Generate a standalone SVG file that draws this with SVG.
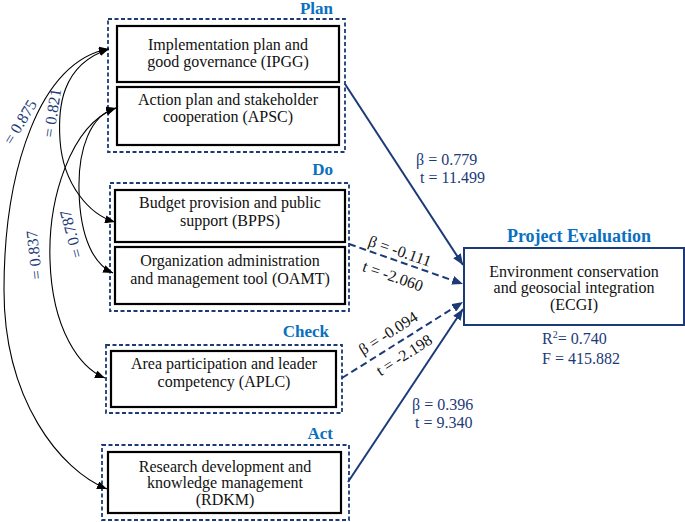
<svg xmlns="http://www.w3.org/2000/svg" width="685" height="522" viewBox="0 0 685 522">
<style>
.grp{fill:none;stroke:#1c3a78;stroke-width:1.8;stroke-dasharray:4 2.5}
.node{fill:#fff;stroke:#000;stroke-width:2.2}
.t{font-family:"Liberation Serif","Times New Roman",serif;font-size:16px;fill:#111}
.c{text-anchor:middle}
.hd{font-family:"Liberation Serif","Times New Roman",serif;font-size:17px;font-weight:bold;fill:#0a70c0;text-anchor:end}
.nv{font-family:"Liberation Serif","Times New Roman",serif;font-size:16px;fill:#1c3a78}
.cor{fill:none;stroke:#000;stroke-width:1.1;marker-start:url(#ab);marker-end:url(#ab)}
.path{fill:none;stroke:#1c3a78;stroke-width:2;marker-end:url(#an)}
.dash{stroke-dasharray:7 4}
</style>
<defs>
<marker id="ab" viewBox="0 0 10 8" refX="10" refY="4" markerWidth="10" markerHeight="8" markerUnits="userSpaceOnUse" orient="auto-start-reverse"><path d="M0,0 L10,4 L0,8 z" fill="#000"/></marker>
<marker id="an" viewBox="0 0 11 9" refX="11" refY="4.5" markerWidth="11" markerHeight="9" markerUnits="userSpaceOnUse" orient="auto"><path d="M0,0 L11,4.5 L0,9 z" fill="#1c3a78"/></marker>
</defs>

<g id="group-plan">
<rect class="grp" x="108" y="19" width="237" height="133"/>
<text class="hd" x="333" y="14">Plan</text>
</g>
<g id="group-do">
<rect class="grp" x="110" y="183" width="239" height="128"/>
<text class="hd" x="333" y="175">Do</text>
</g>
<g id="group-check">
<rect class="grp" x="106" y="345" width="236" height="68"/>
<text class="hd" x="329" y="337">Check</text>
</g>
<g id="group-act">
<rect class="grp" x="102" y="445" width="247" height="75"/>
<text class="hd" x="333" y="439">Act</text>
</g>

<g id="IPGG">
<rect class="node" x="117" y="26" width="222" height="56"/>
<text class="t c" x="228" y="50">Implementation plan and</text>
<text class="t c" x="228" y="67">good governance (IPGG)</text>
</g>
<g id="APSC">
<rect class="node" x="117" y="87" width="222" height="58"/>
<text class="t c" x="228" y="105">Action plan and stakeholder</text>
<text class="t c" x="228" y="122">cooperation (APSC)</text>
</g>
<g id="BPPS">
<rect class="node" x="115" y="190" width="230" height="52"/>
<text class="t c" x="230" y="208">Budget provision and public</text>
<text class="t c" x="230" y="226">support (BPPS)</text>
</g>
<g id="OAMT">
<rect class="node" x="115" y="247" width="230" height="57"/>
<text class="t c" x="230" y="266">Organization administration</text>
<text class="t c" x="230" y="284">and management tool (OAMT)</text>
</g>
<g id="APLC">
<rect class="node" x="111" y="351" width="225" height="56"/>
<text class="t c" x="224" y="369">Area participation and leader</text>
<text class="t c" x="224" y="387">competency (APLC)</text>
</g>
<g id="RDKM">
<rect class="node" x="108" y="452" width="233" height="61"/>
<text class="t c" x="225" y="472">Research development and</text>
<text class="t c" x="225" y="488">knowledge management</text>
<text class="t c" x="225" y="505">(RDKM)</text>
</g>
<g id="ECGI">
<text x="579" y="242" style="font-family:'Liberation Serif','Times New Roman',serif;font-size:18px;font-weight:bold;fill:#0a70c0;text-anchor:middle">Project Evaluation</text>
<rect x="464" y="248" width="220" height="77" fill="#fff" stroke="#1c3a78" stroke-width="2"/>
<text class="t c" x="574" y="277">Environment conservation</text>
<text class="t c" x="574" y="293">and geosocial integration</text>
<text class="t c" x="574" y="310">(ECGI)</text>
<text class="nv" x="542" y="344">R<tspan dy="-6" font-size="10">2</tspan><tspan dy="6">= 0.740</tspan></text>
<text class="nv" x="542" y="364">F = 415.882</text>
</g>

<g id="connectors">
<path class="cor" d="M109,49 C40,60 4,170 4,290 C4,400 60,470 107,489"/>
<path class="cor" d="M109,49 C60,65 58,110 60,140 C63,185 90,215 115,222"/>
<path class="cor" d="M116,108 C90,115 78,150 79,190 C80,240 95,265 113,273"/>
<path class="cor" d="M116,108 C70,125 48,200 50,260 C52,330 80,368 105,378"/>

<path class="path" d="M345,84 L463,265"/>
<path class="path dash" d="M349,244 L463,284"/>
<path class="path dash" d="M342,378 L463,302"/>
<path class="path" d="M348,482 L463,309"/>

<g class="nv" text-anchor="middle" dominant-baseline="central">
<text transform="translate(20,122) rotate(-58.6)">= 0.875</text>
<text transform="translate(52,113) rotate(-81.5)">= 0.821</text>
<text transform="translate(71,234) rotate(-105)">= 0.787</text>
<text transform="translate(34,255) rotate(-96)">= 0.837</text>
</g>
<text class="nv" x="416" y="165">β = 0.779</text>
<text class="nv" x="420" y="183">t = 11.499</text>
<text class="nv" x="412" y="410">β = 0.396</text>
<text class="nv" x="415" y="428">t = 9.340</text>
<g class="t" text-anchor="middle" dominant-baseline="central">
<text transform="translate(400,251) rotate(19.2)">β = -0.111</text>
<text transform="translate(393,276) rotate(19.2)">t = -2.060</text>
<text transform="translate(388,333) rotate(-32.5)">β = -0.094</text>
<text transform="translate(404,355) rotate(-32.5)">t = -2.198</text>
</g>
</g>
</svg>
